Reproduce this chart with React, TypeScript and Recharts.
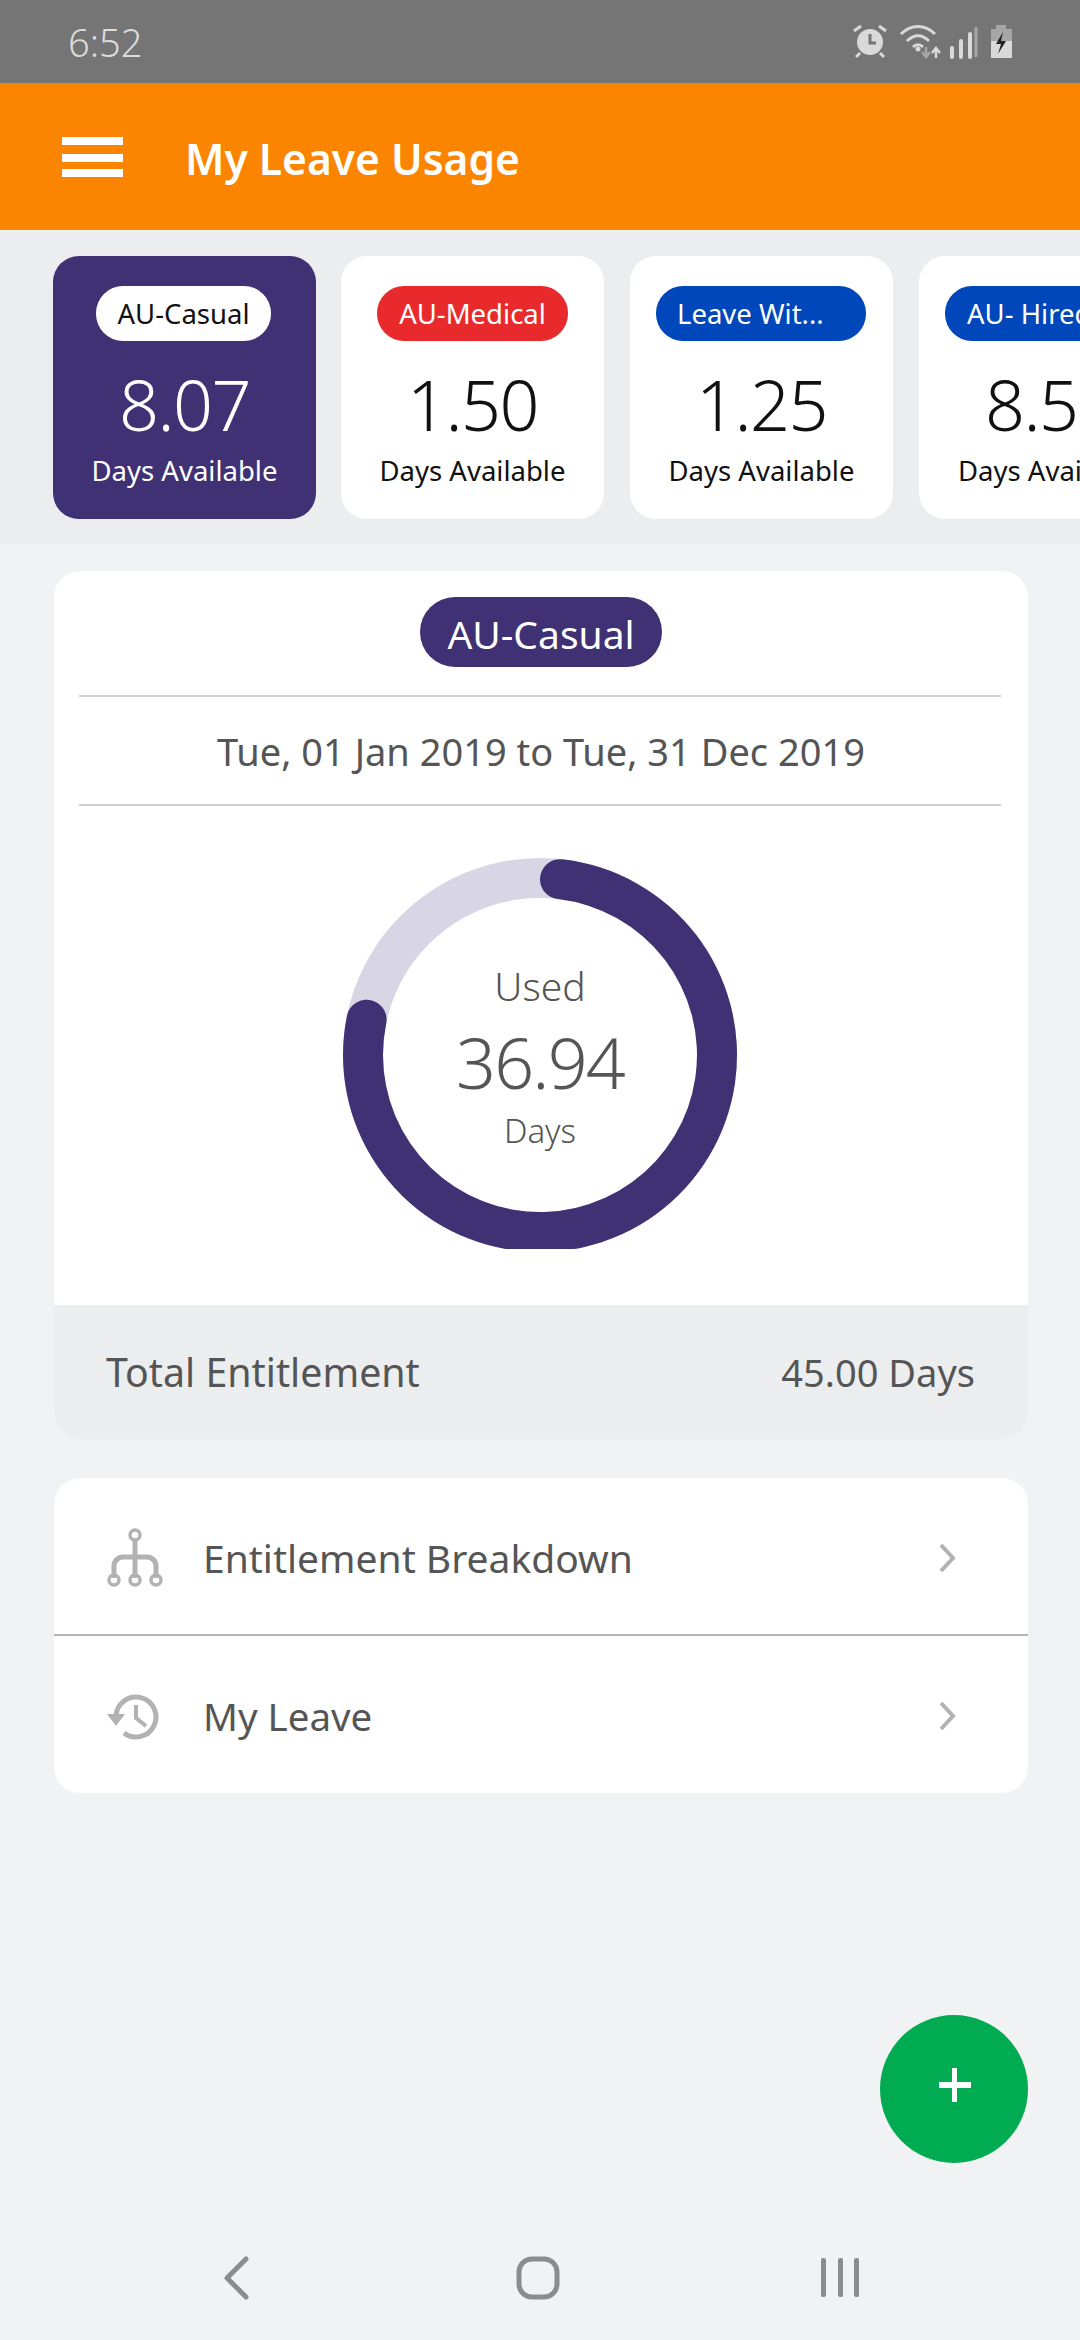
import { PieChart, Pie, Cell } from 'recharts'

const leaveNames = ['AU-Casual', 'AU-Medical', 'Leave Wit...', 'AU- Hired']
const daysAvailable = ['8.07', '1.50', '1.25', '8.5']
const pillColors = ['#ffffff', '#e92a2d', '#0047bb', '#0047bb']

// share of the ring covered by the used arc (ends at about 288 deg)
const ringParts = ['Used', 'Left']
const ringShare = [80, 20]
const ringTrack = [100]

const usedDays = '36.94'
const entitlement = '45.00 Days'
const period = 'Tue, 01 Jan 2019 to Tue, 31 Dec 2019'
const menuItems = ['Entitlement Breakdown', 'My Leave']

const PURPLE = '#3f3173'
const TRACK = '#d8d6e5'
const GREY_TEXT = '#555555'
const ICON = '#b2b2b2'
const NAV = '#8c8c8c'
const FONT = '"Noto Sans", sans-serif'

const cardLefts = [53, 341, 630, 919]
const pillBoxes = [[96, 175], [377, 191], [656, 210], [945, 210]]

function T({ x, w, cy, size, color, weight = 400, align = 'center', spacing = 0, children }: any) {
  const lh = size * 1.4
  return (
    <div style={{
      position: 'absolute', left: x, width: w, top: cy - lh / 2, height: lh, lineHeight: `${lh}px`,
      fontSize: size, color, fontWeight: weight, textAlign: align, letterSpacing: spacing,
      whiteSpace: 'nowrap', fontFamily: FONT,
    }}>
      {children}
    </div>
  )
}

function Box({ x, y, w, h, bg, r = 0 }: any) {
  return <div style={{ position: 'absolute', left: x, top: y, width: w, height: h, background: bg, borderRadius: r }} />
}

function Icon({ x, y, w, h, vb, children }: any) {
  return (
    <svg style={{ position: 'absolute', left: x, top: y }} width={w} height={h} viewBox={vb ?? `0 0 ${w} ${h}`} fill="none">
      {children}
    </svg>
  )
}

function StatusIcons() {
  const c = '#d9d9d9'
  return (
    <>
      <Icon x={850} y={22} w={40} h={38}>
        <circle cx="20" cy="20" r="13" fill={c} />
        <path d="M20 12v9h6" stroke="#757575" strokeWidth="3" />
        <path d="M4 9l7-5M36 9l-7-5M10 31l-4 4M30 31l4 4" stroke={c} strokeWidth="3" />
      </Icon>
      <Icon x={898} y={22} w={46} h={38}>
        <path d="M3 12C13 2 27 2 37 12M9 19C16 12 24 12 31 19M15 25C18 22 22 22 25 25" stroke={c} strokeWidth="3" />
        <circle cx="20" cy="27" r="2.5" fill={c} />
        <path d="M28 25v9M24 30l4 5 4-5" stroke="#a6a6a6" strokeWidth="2.5" />
        <path d="M38 36v-9M34 31l4-5 4 5" stroke={c} strokeWidth="2.5" />
      </Icon>
      <Icon x={948} y={24} w={32} h={36}>
        <path d="M4 24v9M13 17v16" stroke={c} strokeWidth="4" strokeLinecap="round" />
        <path d="M22 10v23" stroke={c} strokeWidth="4" strokeLinecap="round" />
        <path d="M28 3v30" stroke="#a6a6a6" strokeWidth="3" />
      </Icon>
      <Icon x={990} y={24} w={24} h={36}>
        <rect x="6" y="1" width="10" height="5" fill="#a6a6a6" />
        <rect x="1" y="5" width="21" height="14" fill="#a6a6a6" />
        <rect x="1" y="17" width="21" height="17" fill={c} />
        <path d="M13 8l-7 12h5l-3 10 8-13h-5z" fill="#222" />
      </Icon>
    </>
  )
}

function LeaveCard({ i }: { i: number }) {
  const selected = i === 0
  const [px, pw] = pillBoxes[i]
  const left = cardLefts[i]
  const leftAligned = i >= 2
  const nameInset = i === 3 ? 22 : 21
  return (
    <>
      <Box x={left} y={256} w={263} h={263} bg={selected ? PURPLE : '#ffffff'} r={26} />
      <Box x={px} y={286} w={pw} h={55} bg={pillColors[i]} r={27} />
      <T x={leftAligned ? px + nameInset : px} w={leftAligned ? 200 : pw} cy={314} size={27.5} color={selected ? '#111111' : '#ffffff'} align={leftAligned ? 'left' : 'center'}>
        {leaveNames[i]}
      </T>
      <T x={i === 3 ? 985 : left} w={i === 3 ? 120 : 263} cy={404} size={70} color={selected ? '#ffffff' : '#111111'} weight={300} spacing={-1.5} align={i === 3 ? 'left' : 'center'}>
        {daysAvailable[i]}
      </T>
      <T x={i === 3 ? 958 : left} w={i === 3 ? 200 : 263} cy={471} size={27.5} color={selected ? '#ffffff' : '#111111'} align={i === 3 ? 'left' : 'center'}>
        Days Available
      </T>
    </>
  )
}

function UsageRing() {
  const track = ringTrack.map(v => ({ value: v }))
  const share = ringParts.map((name, i) => ({ name, value: ringShare[i] }))
  return (
    <div style={{ position: 'absolute', left: 340, top: 850, width: 400, height: 399, overflow: 'hidden' }}>
      <PieChart width={400} height={410} margin={{ top: 0, right: 0, bottom: 0, left: 0 }}>
        <Pie data={track} dataKey="value" cx={200} cy={205} innerRadius={157} outerRadius={197}
          startAngle={90} endAngle={-270} stroke="none" fill={TRACK} isAnimationActive={false} />
        <Pie data={share} dataKey="value" nameKey="name" cx={200} cy={205} innerRadius={157} outerRadius={197}
          startAngle={90} endAngle={-270} cornerRadius={20} stroke="none" isAnimationActive={false}>
          <Cell fill={PURPLE} />
          <Cell fill="none" />
        </Pie>
      </PieChart>
    </div>
  )
}

export default function App() {
  return (
    <div style={{ position: 'absolute', left: 0, top: 0, width: 1080, height: 2340, overflow: 'hidden', background: '#f1f2f4', fontFamily: FONT }}>
      <Box x={0} y={0} w={1080} h={83} bg="#757575" />
      <T x={68} w={120} cy={43} size={38} color="#dcdcdc" weight={300} align="left">6:52</T>
      <StatusIcons />

      <Box x={0} y={83} w={1080} h={147} bg="#fb8500" />
      <Box x={62} y={137} w={61} h={8} bg="#ffffff" />
      <Box x={62} y={154} w={61} h={8} bg="#ffffff" />
      <Box x={62} y={169} w={61} h={8} bg="#ffffff" />
      <T x={185} w={500} cy={159} size={42.5} color="#ffffff" weight={600} align="left">My Leave Usage</T>

      <Box x={0} y={230} w={1080} h={315} bg="#ecedef" />
      {leaveNames.map((_, i) => <LeaveCard key={i} i={i} />)}

      <Box x={54} y={571} w={974} h={868} bg="#ffffff" r={26} />
      <div style={{ position: 'absolute', left: 54, top: 1305, width: 974, height: 134, background: '#ecedef', borderRadius: '0 0 26px 26px' }} />
      <Box x={420} y={597} w={242} h={70} bg={PURPLE} r={35} />
      <T x={420} w={242} cy={634} size={39} color="#ffffff">{leaveNames[0]}</T>
      <Box x={79} y={695} w={922} h={2} bg="#cfcfcf" />
      <T x={54} w={974} cy={752} size={38} color={GREY_TEXT}>{period}</T>
      <Box x={79} y={804} w={922} h={2} bg="#cfcfcf" />

      <UsageRing />
      <T x={340} w={400} cy={986} size={39} color={GREY_TEXT} weight={300}>Used</T>
      <T x={340} w={400} cy={1062} size={70} color={GREY_TEXT} weight={300} spacing={-1.8}>{usedDays}</T>
      <T x={340} w={400} cy={1131} size={33} color={GREY_TEXT} weight={300}>Days</T>

      <T x={106} w={500} cy={1373} size={39.3} color={GREY_TEXT} align="left">Total Entitlement</T>
      <T x={575} w={400} cy={1373} size={38} color={GREY_TEXT} align="right">{entitlement}</T>

      <Box x={54} y={1478} w={974} h={315} bg="#ffffff" r={26} />
      <Box x={54} y={1634} w={974} h={2} bg="#b5b5b5" />
      <T x={203} w={600} cy={1558} size={39} color={GREY_TEXT} align="left">{menuItems[0]}</T>
      <T x={203} w={600} cy={1717} size={38.5} color={GREY_TEXT} align="left">{menuItems[1]}</T>

      <Icon x={106} y={1528} w={60} h={60}>
        <circle cx="29" cy="7" r="5" stroke={ICON} strokeWidth="3.5" />
        <path d="M29 12v38" stroke={ICON} strokeWidth="5" />
        <path d="M8 50v-12a9 9 0 0 1 9-9h24a9 9 0 0 1 9 9v12" stroke={ICON} strokeWidth="5" />
        <circle cx="8" cy="52" r="5" stroke={ICON} strokeWidth="3.5" />
        <circle cx="29" cy="52" r="5" stroke={ICON} strokeWidth="3.5" />
        <circle cx="50" cy="52" r="5" stroke={ICON} strokeWidth="3.5" />
      </Icon>
      <Icon x={106} y={1692} w={58} h={50}>
        <path d="M10 24a20 20 0 1 1 8 17" stroke={ICON} strokeWidth="5" />
        <path d="M1 22h18l-9 12z" fill={ICON} />
        <path d="M30 13v13l10 8" stroke={ICON} strokeWidth="4" />
      </Icon>
      <Icon x={936} y={1542} w={24} h={32}>
        <path d="M5 3l12 13L5 29" stroke={ICON} strokeWidth="4" />
      </Icon>
      <Icon x={936} y={1700} w={24} h={32}>
        <path d="M5 3l12 13L5 29" stroke={ICON} strokeWidth="4" />
      </Icon>

      <Box x={880} y={2015} w={148} h={148} bg="#00ab52" r={74} />
      <Box x={939} y={2082} w={32} h={6} bg="#ffffff" />
      <Box x={952} y={2068} w={5} h={34} bg="#ffffff" />

      <Icon x={220} y={2254} w={32} h={48}>
        <path d="M26 5L7 24l0 0 19 19" stroke={NAV} strokeWidth="5" strokeLinecap="round" strokeLinejoin="round" />
      </Icon>
      <Icon x={514} y={2254} w={50} h={48}>
        <rect x="5" y="5" width="38" height="38" rx="13" stroke={NAV} strokeWidth="5" />
      </Icon>
      <Box x={821} y={2258} w={5} h={39} bg={NAV} r={2} />
      <Box x={838} y={2258} w={5} h={39} bg={NAV} r={2} />
      <Box x={854} y={2258} w={5} h={39} bg={NAV} r={2} />
    </div>
  )
}
